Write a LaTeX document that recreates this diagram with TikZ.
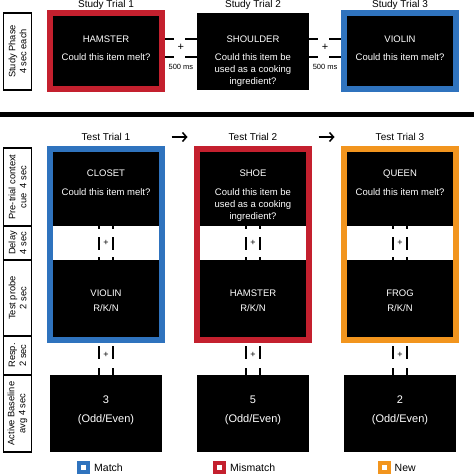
\documentclass[tikz,border=0pt]{standalone}
\usepackage{fontspec}
\setmainfont{Liberation Sans}
\usetikzlibrary{arrows.meta,positioning,calc}
\definecolor{matchblue}{HTML}{2F73BE}
\definecolor{mismatchred}{HTML}{C4202E}
\definecolor{neworange}{HTML}{F2951E}

\begin{document}
\begin{tikzpicture}[
  x=1pt,y=-1pt,
  title/.style={font=\fontsize{10}{12}\selectfont,inner sep=0pt},
  phase/.style={draw=black,line width=1.3pt,fill=white,rotate=90,align=center,minimum height=28pt,inner sep=0pt,font=\fontsize{9.3}{11}\selectfont},
  frame/.style={line width=6pt,minimum width=112pt,inner sep=0pt},
  screen/.style={fill=black,minimum width=106pt,inner sep=0pt},
  words/.style={text=white,align=center,anchor=north,inner sep=0pt,font=\fontsize{9.5}{12}\selectfont},
  isi/.style={line width=1.6pt,dash pattern=on 9pt off 11pt on 20pt},
  delay/.style={line width=1.5pt,dash pattern=on 3pt off 8pt on 13pt off 7pt on 6pt},
  resp/.style={line width=1.5pt,dash pattern=on 0pt off 3pt on 13pt off 9pt on 20pt},
  fix/.style={font=\fontsize{11}{11}\selectfont,inner sep=0pt},
  smallfix/.style={font=\fontsize{9}{9}\selectfont,inner sep=0pt},
  seq/.style={-{Straight Barb[length=4pt,width=9pt]},line width=1.5pt},
  key/.style={line width=4pt,fill=white,minimum size=9pt,inner sep=0pt},
  keytext/.style={font=\fontsize{10.5}{12}\selectfont,inner sep=0pt}
]
\useasboundingbox (0,0) rectangle (474,476);

% study phase
\node[phase,minimum width=77pt] (lstudy) at (17.5,51.5) {Study Phase\\4 sec each};
\node[title] (st1) at (106,5) {Study Trial 1};
\node[title] (st2) at (253,5) {Study Trial 2};
\node[title] (st3) at (400,5) {Study Trial 3};
\node[frame,draw=mismatchred,fill=black,minimum height=76pt] (s1) at (106,51.5) {};
\node[screen,minimum width=112pt,minimum height=77pt] (s2) at (253,51.5) {};
\node[frame,draw=matchblue,fill=black,minimum height=76pt] (s3) at (400,51.5) {};
\node[words] (w1) at (106,35.5) {HAMSTER\\[6pt]Could this item melt?};
\node[words] (w2) at (253,35.5) {SHOULDER\\[6pt]Could this item be\\used as a cooking\\ingredient?};
\node[words] (w3) at (400,35.5) {VIOLIN\\[6pt]Could this item melt?};

\draw[isi] ([yshift=12.5pt]s1.east) -- ([yshift=12.5pt]s2.west);
\draw[isi] ([yshift=-5.5pt]s1.east) -- ([yshift=-5.5pt]s2.west);
\node[fix] (f12) at ($(s1.east)!0.5!(s2.west)+(0,-4.5)$) {+};
\node[font=\fontsize{7.5}{8}\selectfont,inner sep=0pt] at ($(s1.east)!0.5!(s2.west)+(0,15.5)$) {500 ms};
\draw[isi] ([yshift=12.5pt]s2.east) -- ([yshift=12.5pt]s3.west);
\draw[isi] ([yshift=-5.5pt]s2.east) -- ([yshift=-5.5pt]s3.west);
\node[fix] (f23) at ($(s2.east)!0.5!(s3.west)+(0,-4.5)$) {+};
\node[font=\fontsize{7.5}{8}\selectfont,inner sep=0pt] at ($(s2.east)!0.5!(s3.west)+(0,15.5)$) {500 ms};

\draw[line width=5pt] (0,114.5) -- (474,114.5);

% test phase
\node[phase,minimum width=78pt] (lcue) at (17.5,187) {Pre-trial context\\cue~~4 sec};
\node[phase,minimum width=34pt] (ldelay) at (17.5,243) {Delay\\4 sec};
\node[phase,minimum width=76pt] (lprobe) at (17.5,298) {Test probe\\2 sec};
\node[phase,minimum width=39pt] (lresp) at (17.5,355.5) {Resp.\\2 sec};
\node[phase,minimum width=77pt] (lbase) at (17.5,413.5) {Active Baseline\\avg 4 sec};

\node[title] (tt1) at (106,137) {Test Trial 1};
\node[title] (tt2) at (253,137) {Test Trial 2};
\node[title] (tt3) at (400,137) {Test Trial 3};
\coordinate (a12) at ($(tt1.east)!0.5!(tt2.west)$);
\coordinate (a23) at ($(tt2.east)!0.5!(tt3.west)$);
\draw[seq] ([xshift=-8pt]a12) -- ([xshift=8pt]a12);
\draw[seq] ([xshift=-8pt]a23) -- ([xshift=8pt]a23);

\foreach \i/\cx/\col/\cue/\probe/\num in {%
  1/106/matchblue/{CLOSET\\[7pt]Could this item melt?}/{VIOLIN\\[3pt]R/K/N}/3,
  2/253/mismatchred/{SHOE\\[7pt]Could this item be\\used as a cooking\\ingredient?}/{HAMSTER\\[3pt]R/K/N}/5,
  3/400/neworange/{QUEEN\\[7pt]Could this item melt?}/{FROG\\[3pt]R/K/N}/2}{
  \node[frame,draw=\col,fill=white,minimum height=191pt] (t\i) at (\cx,244.5) {};
  \node[screen,minimum height=74pt] (c\i) at (\cx,189) {};
  \node[screen,minimum height=77pt] (p\i) at (\cx,298.5) {};
  \node[screen,minimum width=112pt,minimum height=77pt] (b\i) at (\cx,413.5) {};
  \node[words] at (\cx,169.6) {\cue};
  \node[words] at (\cx,289.6) {\probe};
  \node[words,font=\fontsize{11}{13}\selectfont] at (\cx,396) {\num\\[6pt](Odd/Even)};
  % fixation between screens
  \draw[delay] ([xshift=-7pt]c\i.south) -- ([xshift=-7pt]p\i.north);
  \draw[delay] ([xshift=7pt]c\i.south) -- ([xshift=7pt]p\i.north);
  \node[smallfix] at ($(c\i.south)!0.5!(p\i.north)$) {+};
  \draw[resp] ([xshift=-7pt]t\i.south) -- ([xshift=-7pt]b\i.north);
  \draw[resp] ([xshift=7pt]t\i.south) -- ([xshift=7pt]b\i.north);
  \node[smallfix] at ($(t\i.south)+(0,12)$) {+};
}

% legend
\node[key,draw=matchblue] (k1) at (83.5,467.5) {};
\node[keytext,right=4pt of k1] {Match};
\node[key,draw=mismatchred] (k2) at (219.5,467.5) {};
\node[keytext,right=4pt of k2] {Mismatch};
\node[key,draw=neworange] (k3) at (384,467.5) {};
\node[keytext,right=4pt of k3] {New};
\end{tikzpicture}
\end{document}
